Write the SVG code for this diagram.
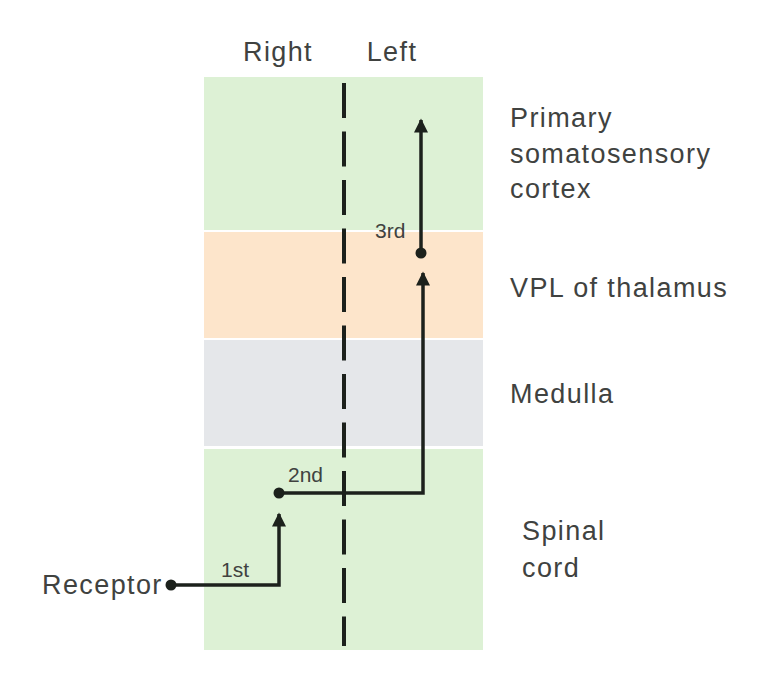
<svg xmlns="http://www.w3.org/2000/svg" width="768" height="692" viewBox="0 0 768 692">
<defs>
<style>
.t{font-family:"Liberation Sans",Arial,sans-serif;fill:#404240;font-size:27px;letter-spacing:1.4px}
.s{font-family:"Liberation Sans",Arial,sans-serif;fill:#404240;font-size:21px}
.c{fill:none;stroke:#1c211c;stroke-width:3.5}
.d{fill:#1c211c}
</style>
<marker id="ah" viewBox="0 0 10 10" refX="9" refY="5" markerWidth="4.5" markerHeight="4" orient="auto" markerUnits="strokeWidth">
<path d="M0,0 L10,5 L0,10 z" fill="#1c211c"/>
</marker>
</defs>
<rect width="768" height="692" fill="#ffffff"/>
<g id="cortex"><rect x="204" y="77" width="279" height="153" fill="#ddf1d5"/><text class="t" x="510" y="127">Primary</text><text class="t" x="510" y="163">somatosensory</text><text class="t" x="510" y="198">cortex</text></g>
<g id="thalamus"><rect x="204" y="232" width="279" height="106" fill="#fde5cb"/><text class="t" x="510" y="297">VPL of thalamus</text></g>
<g id="medulla"><rect x="204" y="340" width="279" height="106" fill="#e5e7ea"/><text class="t" x="510" y="403">Medulla</text></g>
<g id="spinal"><rect x="204" y="449" width="279" height="201" fill="#ddf1d5"/><text class="t" x="522" y="540">Spinal</text><text class="t" x="522" y="577">cord</text></g>
<g id="sides"><text class="t" x="278" y="61" text-anchor="middle">Right</text><text class="t" x="392" y="61" text-anchor="middle">Left</text></g>
<line x1="344" y1="83" x2="344" y2="646" stroke="#1c211c" stroke-width="4" stroke-dasharray="35 13.5"/>
<g id="receptor"><text class="t" x="42" y="594" letter-spacing="0.8">Receptor</text></g>
<g id="connectors">
<path class="c" d="M171,585 H279 V514" marker-end="url(#ah)"/>
<circle class="d" cx="171" cy="585" r="5.5"/>
<path class="c" d="M279,493 H423 V273" marker-end="url(#ah)"/>
<circle class="d" cx="279" cy="493" r="5.5"/>
<path class="c" d="M421,253 V120" marker-end="url(#ah)"/>
<circle class="d" cx="421" cy="253" r="5.5"/>
<text class="s" x="221" y="577">1st</text>
<text class="s" x="288" y="482">2nd</text>
<text class="s" x="375" y="238">3rd</text>
</g>
</svg>
